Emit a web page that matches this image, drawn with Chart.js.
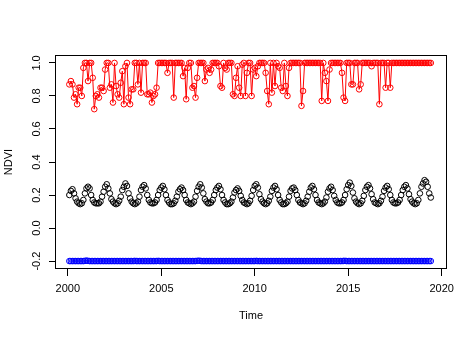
<!DOCTYPE html>
<html>
<head>
<meta charset="utf-8">
<script src="https://cdn.jsdelivr.net/npm/chart.js@4.4.1/dist/chart.umd.min.js"></script>
<style>
  html, body { margin: 0; padding: 0; background: #fff; }
  #wrap { width: 474px; height: 338px; }
</style>
</head>
<body>
<div id="wrap"><canvas id="ndviChart" width="474" height="338"></canvas></div>
<script>
// monthly NDVI series, Feb 2000 - Jun 2019
const startYear = 2000;
const startMonth = 2;
const xTicks = [2000, 2005, 2010, 2015, 2020];
const yTicks = [-0.2, 0.0, 0.2, 0.4, 0.6, 0.8, 1.0];

const ndviRed = [
  0.87, 0.89, 0.87, 0.79, 0.81, 0.75, 0.85, 0.85, 0.80, 0.97, 1.00,        // 2000
  1.00, 0.89, 1.00, 1.00, 0.91, 0.72, 0.80, 0.81, 0.79, 0.85, 0.85, 0.83,  // 2001
  0.96, 1.00, 1.00, 0.85, 0.87, 0.76, 1.00, 0.86, 0.81, 0.79, 0.88, 0.95,  // 2002
  0.75, 0.98, 1.00, 0.79, 0.75, 0.84, 0.84, 1.00, 1.00, 0.87, 1.00, 0.82,  // 2003
  1.00, 1.00, 1.00, 0.81, 0.81, 0.82, 0.76, 0.80, 0.81, 0.85, 1.00, 1.00,  // 2004
  1.00, 1.00, 1.00, 1.00, 0.94, 1.00, 1.00, 1.00, 0.79, 1.00, 1.00, 1.00,  // 2005
  1.00, 1.00, 0.92, 0.97, 0.78, 0.97, 1.00, 1.00, 0.85, 0.86, 0.79, 0.91,  // 2006
  1.00, 1.00, 1.00, 1.00, 0.89, 0.96, 0.97, 0.94, 0.96, 1.00, 1.00, 1.00,  // 2007
  1.00, 0.98, 0.86, 0.85, 1.00, 0.97, 0.96, 1.00, 1.00, 1.00, 0.81, 0.80,  // 2008
  0.91, 0.98, 0.85, 0.80, 0.99, 1.00, 0.80, 0.94, 1.00, 1.00, 0.80, 0.96,  // 2009
  0.97, 0.92, 0.98, 1.00, 1.00, 1.00, 1.00, 0.94, 0.83, 0.75, 1.00, 0.82,  // 2010
  1.00, 0.86, 1.00, 0.98, 0.97, 0.85, 0.83, 1.00, 0.86, 0.80, 0.97, 1.00,  // 2011
  1.00, 1.00, 1.00, 1.00, 1.00, 1.00, 0.74, 0.83, 1.00, 1.00, 1.00, 1.00,  // 2012
  1.00, 1.00, 1.00, 1.00, 1.00, 1.00, 1.00, 0.77, 1.00, 0.94, 0.89, 0.77,  // 2013
  0.96, 1.00, 1.00, 1.00, 1.00, 1.00, 1.00, 1.00, 0.94, 0.79, 0.77, 1.00,  // 2014
  1.00, 1.00, 0.87, 0.87, 1.00, 1.00, 1.00, 0.84, 0.87, 1.00, 1.00, 1.00,  // 2015
  1.00, 1.00, 1.00, 0.98, 1.00, 1.00, 1.00, 1.00, 0.75, 1.00, 1.00, 1.00,  // 2016
  0.85, 1.00, 1.00, 0.85, 1.00, 1.00, 1.00, 1.00, 1.00, 1.00, 1.00, 1.00,  // 2017
  1.00, 1.00, 1.00, 1.00, 1.00, 1.00, 1.00, 1.00, 1.00, 1.00, 1.00, 1.00,  // 2018
  1.00, 1.00, 1.00, 1.00, 1.00, 1.00                                       // 2019
];

const ndviBlack = [
  0.200, 0.225, 0.235, 0.210, 0.180, 0.160, 0.150, 0.145, 0.150, 0.170, 0.210,         // 2000
  0.240, 0.250, 0.240, 0.200, 0.170, 0.155, 0.150, 0.150, 0.150, 0.160, 0.190, 0.220,  // 2001
  0.250, 0.265, 0.240, 0.210, 0.175, 0.160, 0.150, 0.145, 0.150, 0.165, 0.190, 0.230,  // 2002
  0.250, 0.270, 0.255, 0.210, 0.180, 0.160, 0.150, 0.145, 0.150, 0.160, 0.190, 0.230,  // 2003
  0.250, 0.260, 0.240, 0.200, 0.170, 0.155, 0.150, 0.150, 0.155, 0.170, 0.200, 0.230,  // 2004
  0.245, 0.255, 0.235, 0.200, 0.170, 0.155, 0.145, 0.145, 0.150, 0.165, 0.190, 0.220,  // 2005
  0.235, 0.245, 0.230, 0.200, 0.170, 0.155, 0.150, 0.145, 0.150, 0.160, 0.190, 0.225,  // 2006
  0.250, 0.265, 0.245, 0.210, 0.175, 0.160, 0.150, 0.150, 0.155, 0.170, 0.200, 0.230,  // 2007
  0.245, 0.255, 0.235, 0.200, 0.170, 0.155, 0.145, 0.145, 0.150, 0.160, 0.185, 0.215,  // 2008
  0.230, 0.240, 0.225, 0.195, 0.170, 0.155, 0.150, 0.145, 0.150, 0.165, 0.195, 0.230,  // 2009
  0.255, 0.265, 0.245, 0.205, 0.175, 0.160, 0.150, 0.145, 0.150, 0.165, 0.190, 0.225,  // 2010
  0.245, 0.255, 0.235, 0.200, 0.170, 0.155, 0.145, 0.145, 0.150, 0.160, 0.190, 0.225,  // 2011
  0.240, 0.245, 0.230, 0.200, 0.170, 0.155, 0.150, 0.145, 0.150, 0.165, 0.190, 0.220,  // 2012
  0.245, 0.255, 0.235, 0.200, 0.170, 0.155, 0.150, 0.145, 0.150, 0.160, 0.185, 0.220,  // 2013
  0.240, 0.250, 0.230, 0.195, 0.170, 0.155, 0.150, 0.150, 0.155, 0.170, 0.200, 0.235,  // 2014
  0.260, 0.275, 0.255, 0.215, 0.180, 0.160, 0.150, 0.145, 0.150, 0.165, 0.195, 0.230,  // 2015
  0.250, 0.260, 0.240, 0.205, 0.175, 0.155, 0.150, 0.145, 0.150, 0.165, 0.190, 0.225,  // 2016
  0.245, 0.255, 0.235, 0.200, 0.170, 0.155, 0.150, 0.150, 0.155, 0.170, 0.200, 0.230,  // 2017
  0.250, 0.260, 0.240, 0.205, 0.175, 0.160, 0.150, 0.145, 0.150, 0.170, 0.210, 0.250,  // 2018
  0.270, 0.290, 0.280, 0.250, 0.210, 0.185                                             // 2019
];

const ndviBlue = [
  -0.200, -0.200, -0.200, -0.200, -0.200, -0.200, -0.200, -0.200, -0.200, -0.200, -0.199,          // 2000
  -0.197, -0.199, -0.200, -0.200, -0.200, -0.200, -0.200, -0.200, -0.200, -0.200, -0.200, -0.200,  // 2001
  -0.200, -0.200, -0.200, -0.200, -0.200, -0.200, -0.200, -0.200, -0.200, -0.200, -0.200, -0.200,  // 2002
  -0.200, -0.200, -0.200, -0.200, -0.200, -0.200, -0.200, -0.199, -0.200, -0.200, -0.200, -0.200,  // 2003
  -0.200, -0.200, -0.200, -0.200, -0.200, -0.200, -0.200, -0.200, -0.200, -0.200, -0.199, -0.200,  // 2004
  -0.200, -0.200, -0.200, -0.200, -0.200, -0.200, -0.200, -0.200, -0.200, -0.200, -0.200, -0.200,  // 2005
  -0.200, -0.200, -0.200, -0.200, -0.200, -0.200, -0.200, -0.200, -0.200, -0.200, -0.200, -0.199,  // 2006
  -0.198, -0.199, -0.200, -0.200, -0.200, -0.200, -0.200, -0.200, -0.200, -0.200, -0.200, -0.200,  // 2007
  -0.200, -0.200, -0.200, -0.200, -0.200, -0.200, -0.200, -0.200, -0.200, -0.200, -0.200, -0.200,  // 2008
  -0.200, -0.200, -0.200, -0.200, -0.200, -0.200, -0.200, -0.200, -0.200, -0.200, -0.200, -0.200,  // 2009
  -0.200, -0.199, -0.200, -0.200, -0.200, -0.200, -0.200, -0.200, -0.200, -0.200, -0.200, -0.200,  // 2010
  -0.200, -0.200, -0.200, -0.200, -0.200, -0.200, -0.200, -0.200, -0.200, -0.200, -0.200, -0.200,  // 2011
  -0.200, -0.200, -0.200, -0.200, -0.200, -0.200, -0.200, -0.200, -0.200, -0.200, -0.200, -0.200,  // 2012
  -0.200, -0.200, -0.200, -0.200, -0.200, -0.200, -0.200, -0.200, -0.200, -0.200, -0.200, -0.200,  // 2013
  -0.200, -0.200, -0.200, -0.200, -0.200, -0.200, -0.200, -0.200, -0.200, -0.199, -0.199, -0.200,  // 2014
  -0.200, -0.200, -0.200, -0.200, -0.200, -0.200, -0.200, -0.200, -0.200, -0.200, -0.200, -0.200,  // 2015
  -0.200, -0.200, -0.200, -0.200, -0.200, -0.200, -0.200, -0.200, -0.200, -0.200, -0.200, -0.200,  // 2016
  -0.200, -0.200, -0.200, -0.200, -0.200, -0.200, -0.200, -0.200, -0.200, -0.200, -0.200, -0.200,  // 2017
  -0.200, -0.200, -0.200, -0.200, -0.200, -0.200, -0.200, -0.200, -0.200, -0.200, -0.200, -0.200,  // 2018
  -0.200, -0.200, -0.200, -0.200, -0.200, -0.200                                                   // 2019
];

// month index -> decimal year, like a ts() time axis
function toPoints(values) {
  return values.map((v, i) => ({ x: startYear + (startMonth - 1 + i) / 12, y: v }));
}

const axisFont = { family: "'Liberation Sans', Arial, Helvetica, sans-serif", size: 11 };

function series(values, color, withLine) {
  return {
    data: toPoints(values),
    showLine: withLine,
    borderColor: color,
    borderWidth: 1,
    backgroundColor: 'transparent',
    pointRadius: 2.8,
    pointHoverRadius: 2.8,
    pointBorderWidth: 1,
    pointBorderColor: color,
    pointBackgroundColor: 'transparent',
    tension: 0
  };
}

// R-style frame round the plot region
const boxPlugin = {
  id: 'plotBox',
  afterDraw(chart) {
    const a = chart.chartArea;
    const ctx = chart.ctx;
    ctx.save();
    ctx.strokeStyle = '#000';
    ctx.lineWidth = 1;
    ctx.strokeRect(Math.round(a.left) - 0.5, Math.round(a.top) + 0.5,
                   Math.round(a.right - a.left) + 1, Math.round(a.bottom - a.top) - 1);
    ctx.restore();
  }
};

new Chart(document.getElementById('ndviChart').getContext('2d'), {
  type: 'line',
  data: {
    datasets: [
      series(ndviRed, '#ff0000', true),
      series(ndviBlack, '#000000', false),
      series(ndviBlue, '#0000ff', true)
    ]
  },
  options: {
    responsive: false,
    animation: false,
    devicePixelRatio: 1,
    layout: { padding: { top: 55, right: 28, bottom: 0, left: 0 } },
    plugins: { legend: { display: false }, tooltip: { enabled: false } },
    scales: {
      x: {
        type: 'linear',
        min: 1999.37,
        max: 2020.23,
        afterBuildTicks: (s) => { s.ticks = xTicks.map(v => ({ value: v })); },
        afterFit: (s) => { s.height = 69; },
        grid: { drawOnChartArea: false, drawTicks: true, tickLength: 7, color: '#000' },
        border: { display: false },
        ticks: { color: '#000', font: axisFont, padding: 6, maxRotation: 0, autoSkip: false,
                 callback: (v) => String(v) },
        title: { display: true, text: 'Time', color: '#000', font: axisFont,
                 padding: { top: 0, bottom: 15 } }
      },
      y: {
        min: -0.248,
        max: 1.048,
        afterBuildTicks: (s) => { s.ticks = yTicks.map(v => ({ value: v })); },
        afterFit: (s) => { s.width = 56; },
        grid: { drawOnChartArea: false, drawTicks: true, tickLength: 7, color: '#000' },
        border: { display: false },
        ticks: { color: '#000', font: axisFont, padding: 3, minRotation: 90, maxRotation: 90,
                 crossAlign: 'center', autoSkip: false, callback: (v) => v.toFixed(1) },
        title: { display: true, text: 'NDVI', color: '#000', font: axisFont,
                 padding: { top: 2, bottom: 0 } }
      }
    }
  },
  plugins: [boxPlugin]
});
</script>
</body>
</html>
